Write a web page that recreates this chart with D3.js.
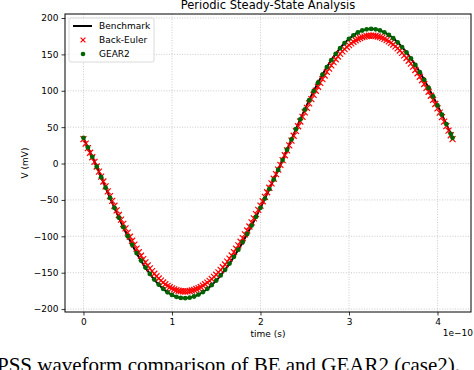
<!DOCTYPE html>
<html><head><meta charset="utf-8">
<script src="https://cdn.jsdelivr.net/npm/d3@7"></script>
<style>body{margin:0;background:#fff;overflow:hidden}svg{display:block}</style>
</head><body>
<script>
// time in units of 1e-10 s
const timeFine = [0,0.025,0.05,0.075,0.1,0.125,0.15,0.175,0.2,0.225,0.25,0.275,0.3,0.325,0.35,0.375,0.4,0.425,0.45,0.475,
0.5,0.525,0.55,0.575,0.6,0.625,0.65,0.675,0.7,0.725,0.75,0.775,0.8,0.825,0.85,0.875,0.9,0.925,0.95,0.975,
1,1.025,1.05,1.075,1.1,1.125,1.15,1.175,1.2,1.225,1.25,1.275,1.3,1.325,1.35,1.375,1.4,1.425,1.45,1.475,
1.5,1.525,1.55,1.575,1.6,1.625,1.65,1.675,1.7,1.725,1.75,1.775,1.8,1.825,1.85,1.875,1.9,1.925,1.95,1.975,
2,2.025,2.05,2.075,2.1,2.125,2.15,2.175,2.2,2.225,2.25,2.275,2.3,2.325,2.35,2.375,2.4,2.425,2.45,2.475,
2.5,2.525,2.55,2.575,2.6,2.625,2.65,2.675,2.7,2.725,2.75,2.775,2.8,2.825,2.85,2.875,2.9,2.925,2.95,2.975,
3,3.025,3.05,3.075,3.1,3.125,3.15,3.175,3.2,3.225,3.25,3.275,3.3,3.325,3.35,3.375,3.4,3.425,3.45,3.475,
3.5,3.525,3.55,3.575,3.6,3.625,3.65,3.675,3.7,3.725,3.75,3.775,3.8,3.825,3.85,3.875,3.9,3.925,3.95,3.975,
4,4.025,4.05,4.075,4.1,4.125,4.15,4.17];
const benchmark = [35.3,28.8,22.2,15.7,9.2,2.5,-4.3,-11.6,-18.8,-26.0,
-33.1,-40.2,-47.2,-54.1,-61.0,-67.7,-74.4,-81.0,-87.4,-93.7,
-99.9,-105.9,-111.7,-117.4,-123.0,-128.3,-133.4,-138.3,-143.0,-147.5,
-151.7,-155.7,-159.5,-163.0,-166.3,-169.3,-172.1,-174.6,-176.9,-178.9,
-180.6,-182.0,-183.2,-184.0,-184.6,-184.9,-185.0,-184.8,-184.3,-183.6,
-182.7,-181.5,-180.1,-178.5,-176.6,-174.5,-172.2,-169.7,-166.9,-164.0,
-160.8,-157.4,-153.8,-150.0,-146.0,-141.9,-137.5,-132.9,-128.2,-123.3,
-118.3,-113.2,-107.9,-102.4,-96.8,-91.1,-85.2,-79.3,-73.2,-67.0,
-60.8,-54.5,-48.1,-41.6,-35.1,-28.6,-22.0,-15.4,-8.8,-2.0,
4.8,12.0,19.1,26.2,33.2,40.2,47.2,54.0,60.8,67.5,
74.1,80.6,87.0,93.3,99.4,105.3,111.1,116.7,122.2,127.4,
132.5,137.4,142.1,146.6,150.8,154.8,158.6,162.2,165.5,168.6,
171.4,173.9,176.2,178.3,180.1,181.6,182.8,183.7,184.4,184.8,
185.0,184.9,184.5,183.8,182.9,181.7,180.3,178.6,176.7,174.6,
172.2,169.5,166.6,163.5,160.1,156.5,152.7,148.7,144.5,140.1,
135.4,130.6,125.6,120.4,115.0,109.5,103.8,98.0,92.1,86.1,
79.9,73.6,67.2,60.7,54.2,47.6,40.9,35.3];
const backEuler = [33.5,27.4,21.1,14.9,8.7,2.4,-4.1,-11.0,-17.9,-24.7,
-31.4,-38.2,-44.8,-51.4,-58.0,-64.3,-70.7,-77.0,-83.0,-89.0,
-94.9,-100.6,-106.1,-111.5,-116.9,-121.9,-126.7,-131.4,-135.9,-140.1,
-144.1,-147.9,-151.5,-154.9,-158.0,-160.8,-163.5,-165.9,-168.1,-170.0,
-171.6,-172.9,-174.0,-174.8,-175.4,-175.7,-175.8,-175.6,-175.1,-174.4,
-173.6,-172.4,-171.1,-169.6,-167.8,-165.8,-163.6,-161.2,-158.6,-155.8,
-152.8,-149.5,-146.1,-142.5,-138.7,-134.8,-130.6,-126.3,-121.8,-117.1,
-112.4,-107.5,-102.5,-97.3,-92.0,-86.5,-80.9,-75.3,-69.5,-63.7,
-57.8,-51.8,-45.7,-39.5,-33.3,-27.2,-20.9,-14.6,-8.4,-1.9,
4.6,11.4,18.1,24.9,31.5,38.2,44.8,51.3,57.8,64.1,
70.4,76.6,82.7,88.6,94.4,100.0,105.5,110.9,116.1,121.0,
125.9,130.5,135.0,139.3,143.3,147.1,150.7,154.1,157.2,160.2,
162.8,165.2,167.4,169.4,171.1,172.5,173.7,174.5,175.2,175.6,
175.8,175.7,175.3,174.6,173.8,172.6,171.3,169.7,167.9,165.9,
163.6,161.0,158.3,155.3,152.1,148.7,145.1,141.3,137.3,133.1,
128.6,124.1,119.3,114.4,109.3,104.0,98.6,93.1,87.5,81.8,
75.9,69.9,63.8,57.7,51.5,45.2,38.9,33.5];
const timeGear = [0,0.05,0.10,0.15,0.20,0.25,0.30,0.35,0.40,0.45,0.50,0.55,0.60,0.65,0.70,0.75,0.80,0.85,0.90,0.95,
1.00,1.05,1.10,1.15,1.20,1.25,1.30,1.35,1.40,1.45,1.50,1.55,1.60,1.65,1.70,1.75,1.80,1.85,1.90,1.95,
2.00,2.05,2.10,2.15,2.20,2.25,2.30,2.35,2.40,2.45,2.50,2.55,2.60,2.65,2.70,2.75,2.80,2.85,2.90,2.95,
3.00,3.05,3.10,3.15,3.20,3.25,3.30,3.35,3.40,3.45,3.50,3.55,3.60,3.65,3.70,3.75,3.80,3.85,3.90,3.95,
4.00,4.05,4.10,4.15,4.17];
const gear2 = [35.3,22.2,9.2,-4.3,-18.8,-33.1,-47.2,-61.0,-74.4,-87.4,-99.9,-111.7,-123.0,-133.4,-143.0,-151.7,-159.5,-166.3,-172.1,-176.9,
-180.6,-183.2,-184.6,-185.0,-184.3,-182.7,-180.1,-176.6,-172.2,-166.9,-160.8,-153.8,-146.0,-137.5,-128.2,-118.3,-107.9,-96.8,-85.2,-73.2,
-60.8,-48.1,-35.1,-22.0,-8.8,4.8,19.1,33.2,47.2,60.8,74.1,87.0,99.4,111.1,122.2,132.5,142.1,150.8,158.6,165.5,
171.4,176.2,180.1,182.8,184.4,185.0,184.5,182.9,180.3,176.7,172.2,166.6,160.1,152.7,144.5,135.4,125.6,115.0,103.8,92.1,
79.9,67.2,54.2,40.9,35.3];
const xTicks = [0,1,2,3,4];
const yTicks = [-200,-150,-100,-50,0,50,100,150,200];
const seriesNames = ["Benchmark","Back-Euler","GEAR2"];
const titleText = "Periodic Steady-State Analysis";
const xLabel = "time (s)", yLabel = "V (mV)", offsetLabel = "1e\u221210";
const captionText = "PSS waveform comparison of BE and GEAR2 (case2).";

const W = 474, H = 370;
const m = {l:65, r:471, t:14, b:312};
const svg = d3.select("body").append("svg").attr("width",W).attr("height",H);
const font = "DejaVu Sans, sans-serif";

const x = d3.scaleLinear().domain([-0.2085, 4.3785]).range([m.l, m.r]);
const y = d3.scaleLinear().domain([-204, 205.5]).range([m.b, m.t]);

// grid
const g = svg.append("g");
g.selectAll(".gx").data(xTicks).join("line")
  .attr("x1",d=>x(d)).attr("x2",d=>x(d)).attr("y1",m.t).attr("y2",m.b)
  .attr("stroke","#b0b0b0").attr("stroke-width",0.8).attr("stroke-dasharray","1,1.6").attr("opacity",0.8);
g.selectAll(".gy").data(yTicks).join("line")
  .attr("y1",d=>y(d)).attr("y2",d=>y(d)).attr("x1",m.l).attr("x2",m.r)
  .attr("stroke","#b0b0b0").attr("stroke-width",0.8).attr("stroke-dasharray","1,1.6").attr("opacity",0.8);

// axes
const fmt = d => d < 0 ? "\u2212" + Math.abs(d) : String(d);
const xa = svg.append("g").attr("transform",`translate(0,${m.b})`)
  .call(d3.axisBottom(x).tickValues(xTicks).tickFormat(fmt).tickSize(3.5).tickPadding(3));
const ya = svg.append("g").attr("transform",`translate(${m.l},0)`)
  .call(d3.axisLeft(y).tickValues(yTicks).tickFormat(fmt).tickSize(3.5).tickPadding(3));
[xa,ya].forEach(a=>{
  a.select(".domain").remove();
  a.selectAll("text").attr("font-family",font).attr("font-size",9).attr("fill","#000");
  a.selectAll("line").attr("stroke","#000").attr("stroke-width",0.8);
});

// data
const idxF = d3.range(timeFine.length);
const idxG = d3.range(timeGear.length);
svg.append("path").datum(idxF)
  .attr("d", d3.line().x(i=>x(timeFine[i])).y(i=>y(benchmark[i])))
  .attr("fill","none").attr("stroke","#000").attr("stroke-width",2);

const xs = 3;
svg.append("g").selectAll("path").data(idxF).join("path")
  .attr("d", i=>{const cx=x(timeFine[i]), cy=y(backEuler[i]);
    return `M${cx-xs},${cy-xs}L${cx+xs},${cy+xs}M${cx-xs},${cy+xs}L${cx+xs},${cy-xs}`;})
  .attr("stroke","#ff0000").attr("stroke-width",1.2).attr("fill","none");

svg.append("g").selectAll("circle").data(idxG).join("circle")
  .attr("cx",i=>x(timeGear[i])).attr("cy",i=>y(gear2[i])).attr("r",2.4)
  .attr("fill","#006400");

// spines
svg.append("rect").attr("x",m.l).attr("y",m.t).attr("width",m.r-m.l).attr("height",m.b-m.t)
  .attr("fill","none").attr("stroke","#000").attr("stroke-width",1);

// legend
const lg = svg.append("g");
lg.append("rect").attr("x",69).attr("y",18).attr("width",85).attr("height",44).attr("rx",2)
  .attr("fill","#fff").attr("fill-opacity",0.8).attr("stroke","#d0d0d0").attr("stroke-width",0.8);
const ly = [26,40,54];
lg.append("line").attr("x1",73).attr("x2",92).attr("y1",ly[0]).attr("y2",ly[0]).attr("stroke","#000").attr("stroke-width",2);
const lxs = 2.4;
lg.append("path").attr("d",`M${83-lxs},${ly[1]-lxs}L${83+lxs},${ly[1]+lxs}M${83-lxs},${ly[1]+lxs}L${83+lxs},${ly[1]-lxs}`)
  .attr("stroke","#ff0000").attr("stroke-width",1.2);
lg.append("circle").attr("cx",83).attr("cy",ly[2]).attr("r",2.3).attr("fill","#006400");
lg.selectAll("text").data(seriesNames).join("text")
  .attr("x",99).attr("y",(d,i)=>ly[i]+3.2).text(d=>d)
  .attr("font-family",font).attr("font-size",9).attr("fill","#000");

// labels
svg.append("text").attr("x",(m.l+m.r)/2).attr("y",9).attr("text-anchor","middle")
  .attr("font-family",font).attr("font-size",11.5).text(titleText);
svg.append("text").attr("x",(m.l+m.r)/2).attr("y",337).attr("text-anchor","middle")
  .attr("font-family",font).attr("font-size",9).text(xLabel);
svg.append("text").attr("transform",`translate(28,${(m.t+m.b)/2}) rotate(-90)`).attr("text-anchor","middle")
  .attr("font-family",font).attr("font-size",9).text(yLabel);
svg.append("text").attr("x",473).attr("y",336).attr("text-anchor","end")
  .attr("font-family",font).attr("font-size",9).text(offsetLabel);
svg.append("text").attr("x",-3).attr("y",372)
  .attr("font-family","Liberation Serif, Times New Roman, serif").attr("font-size",21).text(captionText);
</script>
</body></html>
